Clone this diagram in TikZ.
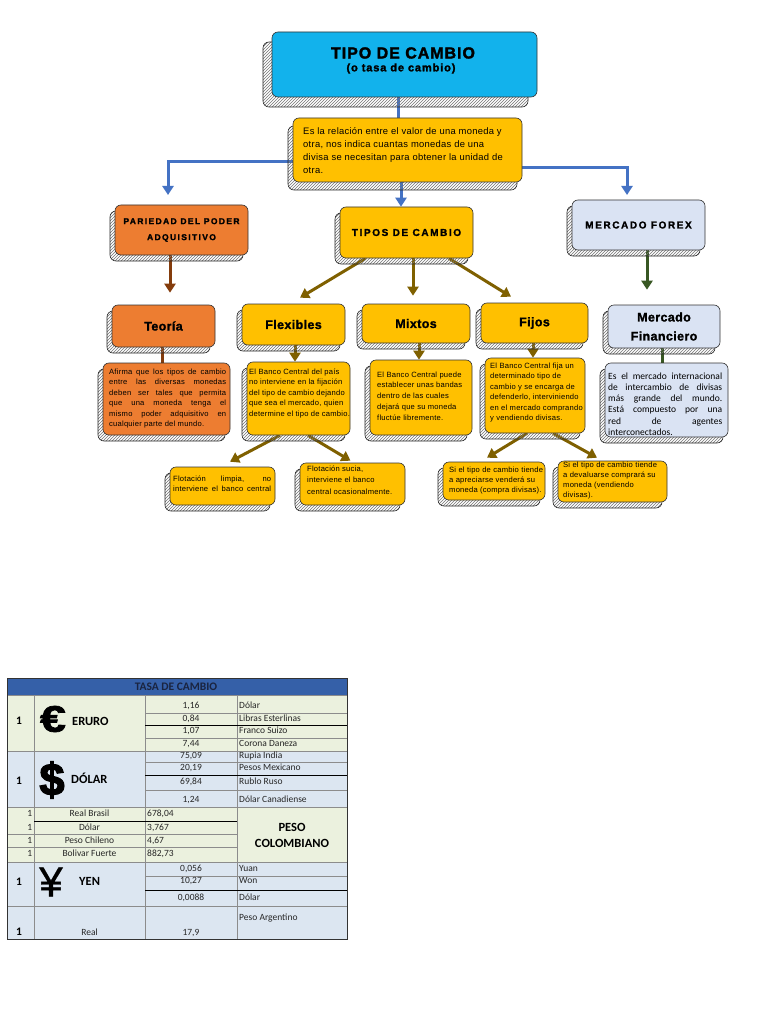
\documentclass[tikz,border=0pt]{standalone}
\usepackage{fontspec}
\setmainfont{Liberation Sans}
\newfontfamily\calfont{Carlito}
\usetikzlibrary{shadows,patterns,arrows.meta,calc,backgrounds}
\definecolor{cTitle}{HTML}{12B2EC}
\definecolor{cYel}{HTML}{FFC000}
\definecolor{cOra}{HTML}{ED7D31}
\definecolor{cLbl}{HTML}{DAE3F3}
\definecolor{cBlue}{HTML}{4472C4}
\definecolor{cBrown}{HTML}{843C0C}
\definecolor{cOlive}{HTML}{7F6000}
\definecolor{cGreen}{HTML}{385723}
\definecolor{cTGreen}{HTML}{EBF1DE}
\definecolor{cTBlue}{HTML}{DCE6F1}
\definecolor{cTHead}{HTML}{3560A8}
\definecolor{cHeadTxt}{HTML}{1A2440}
\begin{document}
\begin{tikzpicture}[x=1pt,y=-1pt,
 bx/.style={draw=black!80,line width=0.6pt,rounded corners=6pt,inner sep=0pt,align=center},
 shd/.style={general shadow={shadow xshift=-5pt,shadow yshift=-6pt,draw=black!85,line width=0.6pt,pattern=north east lines,pattern color=black!55}},
 bigshd/.style={general shadow={shadow xshift=-9pt,shadow yshift=-10pt,draw=black!85,line width=0.6pt,pattern=north east lines,pattern color=black!55}},
 defshd/.style={general shadow={shadow xshift=-5pt,shadow yshift=-8pt,draw=black!85,line width=0.6pt,pattern=north east lines,pattern color=black!55}},
 conn/.style={line width=3pt},
 arr/.style={line width=3pt,-{Triangle[width=11pt,length=9pt]}},
 hd/.style={font=\fontsize{10}{16}\selectfont\bfseries\addfontfeature{LetterSpace=16,FakeBold=1.5}},
 sub/.style={font=\fontsize{12.5}{19}\selectfont\bfseries\addfontfeature{LetterSpace=3,FakeBold=1.5}},
 txt/.style={inner sep=0pt,anchor=north west,align=left},
 cell/.style={inner sep=0pt,font=\calfont\fontsize{9.5}{10}\selectfont,text=black!85,text height=6.5pt,text depth=2pt},
 grid/.style={draw=black!45,line width=0.5pt},
 thk/.style={draw=black,line width=0.9pt}
]
\useasboundingbox (0,0) rectangle (768,1024);

% ---------- boxes ----------
\node[bx,bigshd,fill=cTitle,minimum width=265pt,minimum height=65pt] (title) at (404.5,64.5) {};
\node[inner sep=0pt,font=\fontsize{16}{18}\selectfont\bfseries\addfontfeature{LetterSpace=6,FakeBold=2}] (tt1) at (403,53) {TIPO DE CAMBIO};
\node[inner sep=0pt,font=\fontsize{11}{12}\selectfont\bfseries\addfontfeature{LetterSpace=8,FakeBold=2}] (tt2) at (401,68.5) {(o tasa de cambio)};

\node[bx,defshd,fill=cYel,minimum width=229pt,minimum height=64pt] (def) at (407.5,150) {};
\node[txt,font=\fontsize{9.4}{13}\selectfont\addfontfeature{LetterSpace=3}] (deftxt) at (303,127.5) {Es la relación entre el valor de una moneda y\\otra, nos indica cuantas monedas de una\\divisa se necesitan para obtener la unidad de\\otra.};

\node[bx,shd,fill=cOra,minimum width=133pt,minimum height=50pt,font=\fontsize{8.5}{16}\selectfont\bfseries\addfontfeature{LetterSpace=16,FakeBold=1.5}] (par) at (181.5,230) {PARIEDAD DEL PODER\\ADQUISITIVO};
\node[bx,shd,fill=cYel,hd,minimum width=133pt,minimum height=51pt] (tipos) at (406.5,232.5) {TIPOS DE CAMBIO};
\node[bx,shd,fill=cLbl,hd,minimum width=133pt,minimum height=50pt] (forex) at (638.5,225) {MERCADO FOREX};

\node[bx,shd,fill=cOra,sub,minimum width=103pt,minimum height=42pt] (teo) at (163.5,326) {Teoría};
\node[bx,shd,fill=cYel,sub,minimum width=103pt,minimum height=41pt] (flex) at (293.5,324.5) {Flexibles};
\node[bx,shd,fill=cYel,sub,minimum width=108pt,minimum height=39pt] (mix) at (416,323.5) {Mixtos};
\node[bx,shd,fill=cYel,sub,minimum width=107pt,minimum height=40pt] (fij) at (534.5,323) {Fijos};
\node[bx,shd,fill=cLbl,sub,minimum width=112pt,minimum height=43pt] (mfin) at (664,326.5) {Mercado\\Financiero};

\node[bx,shd,fill=cOra,minimum width=127pt,minimum height=72pt] (teotxt) at (166.5,399) {};
\node[txt,font=\fontsize{7.6}{10.5}\selectfont\addfontfeature{LetterSpace=3}] (teot) at (109,368.5) {\makebox[117pt][s]{Afirma que los tipos de cambio}\\\makebox[117pt][s]{entre las diversas monedas}\\\makebox[117pt][s]{deben ser tales que permita}\\\makebox[117pt][s]{que una moneda tenga el}\\\makebox[117pt][s]{mismo poder adquisitivo en}\\cualquier parte del mundo.};

\node[bx,shd,fill=cYel,minimum width=103pt,minimum height=73pt] (flextxt) at (298.5,398.5) {};
\node[txt,font=\fontsize{7.6}{10.5}\selectfont\addfontfeature{LetterSpace=3}] (flext) at (249,368.5) {El Banco Central del país\\no interviene en la fijación\\del tipo de cambio dejando\\que sea el mercado, quien\\determine el tipo de cambio.};

\node[bx,shd,fill=cYel,minimum width=102pt,minimum height=75pt] (mixtxt) at (421,397.5) {};
\node[txt,font=\fontsize{7.6}{10.7}\selectfont\addfontfeature{LetterSpace=3}] (mixt) at (377,371.5) {El Banco Central puede\\establecer unas bandas\\dentro de las cuales\\dejará que su moneda\\fluctúe libremente.};

\node[bx,shd,fill=cYel,minimum width=100pt,minimum height=75pt] (fijtxt) at (535,395.5) {};
\node[txt,font=\fontsize{7.6}{10.5}\selectfont\addfontfeature{LetterSpace=3}] (fijt) at (490,362.5) {El Banco Central fija un\\determinado tipo de\\cambio y se encarga de\\defenderlo, interviniendo\\en el mercado comprando\\y vendiendo divisas.};

\node[bx,shd,fill=cLbl,minimum width=123pt,minimum height=74pt] (mfintxt) at (666.5,400) {};
\node[txt,font=\calfont\fontsize{9.5}{11.2}\selectfont] (mfint) at (608,372.5) {\makebox[114pt][s]{Es el mercado internacional}\\\makebox[114pt][s]{de intercambio de divisas}\\\makebox[114pt][s]{más grande del mundo.}\\\makebox[114pt][s]{Está compuesto por una}\\\makebox[114pt][s]{red de agentes}\\interconectados.};

\node[bx,shd,fill=cYel,minimum width=105pt,minimum height=38pt] (limpia) at (222.5,486) {};
\node[txt,font=\fontsize{7.6}{10}\selectfont\addfontfeature{LetterSpace=3}] (limpiat) at (173,475.5) {\makebox[98pt][s]{Flotación limpia, no}\\\makebox[98pt][s]{interviene el banco central}};

\node[bx,shd,fill=cYel,minimum width=105pt,minimum height=42pt] (sucia) at (352.5,484) {};
\node[txt,font=\fontsize{7.6}{11.5}\selectfont\addfontfeature{LetterSpace=3}] (suciat) at (307,465.5) {Flotación sucia,\\interviene el banco\\central ocasionalmente.};

\node[bx,shd,fill=cYel,minimum width=102pt,minimum height=38pt] (aprec) at (494,481) {};
\node[txt,font=\fontsize{7.6}{10}\selectfont\addfontfeature{LetterSpace=3}] (aprect) at (449,466.5) {Si el tipo de cambio tiende\\a apreciarse venderá su\\moneda (compra divisas).};

\node[bx,shd,fill=cYel,minimum width=109pt,minimum height=41pt] (deval) at (612.5,481.5) {};
\node[txt,font=\fontsize{7.6}{10}\selectfont\addfontfeature{LetterSpace=3}] (devalt) at (563,461.5) {Si el tipo de cambio tiende\\a devaluarse comprará su\\moneda (vendiendo\\divisas).};

% ---------- connectors ----------
\begin{scope}[on background layer]
\fill[white] (0,0) rectangle (768,1024);
\coordinate (bl1) at (168,195);
\coordinate (bl2) at (627,195);
\draw[conn,cBlue] ($(title.south)+(-6,0)$) -- ($(def.north)+(-9,0)$);
\draw[arr,cBlue] ($(def.west)+(0,12)$) -| (bl1);
\draw[arr,cBlue] ($(def.east)+(0,18)$) -| (bl2);
\draw[arr,cBlue] ($(def.south)+(-6.5,0)$) -- ($(tipos.north)+(-5.5,0)$);

\draw[arr,cBrown] ($(par.south)+(-11.5,0)$) -- ($(teo.north)+(6.5,-12)$);
\draw[conn,cBrown] ($(teo.south)+(-1.5,0)$) -- ($(teotxt.north)+(-4.5,0)$);

\draw[arr,cOlive] ($(tipos.south)+(-41,0)$) -- ($(flex.north)+(6.5,-6)$);
\draw[arr,cOlive] ($(tipos.south)+(6.5,0)$) -- ($(mix.north)+(-3,-8)$);
\draw[arr,cOlive] ($(tipos.south)+(42.5,0)$) -- ($(fij.north)+(-23.5,-6)$);

\draw[arr,cOlive] ($(flex.south)+(1.5,0)$) -- ($(flextxt.north)+(-3.5,0)$);
\draw[arr,cOlive] ($(mix.south)+(3,0)$) -- ($(mixtxt.north)+(-2,0)$);
\draw[arr,cOlive] ($(fij.south)+(-1.5,0)$) -- ($(fijtxt.north)+(-2,0)$);

\draw[arr,cGreen] ($(forex.south)+(8.5,0)$) -- ($(mfin.north)+(-17,-15)$);
\draw[conn,cGreen] ($(mfin.south)+(-2,0)$) -- ($(mfintxt.north)+(-4.5,0)$);

\draw[arr,cOlive] ($(flextxt.south)+(-18.5,0)$) -- ($(limpia.north)+(7.5,-5)$);
\draw[arr,cOlive] ($(flextxt.south)+(9.5,0)$) -- ($(sucia.north)+(-2,-2)$);
\draw[arr,cOlive] ($(fijtxt.south)+(-8,0)$) -- ($(aprec.north)+(-7,-4)$);
\draw[arr,cOlive] ($(fijtxt.south)+(18,0)$) -- ($(deval.north)+(-15.5,-3)$);
\end{scope}

% ---------- table ----------
\fill[cTHead] (7,678) rectangle (347,695.5);
\fill[cTGreen] (7,695.5) rectangle (347,751);
\fill[cTBlue] (7,751) rectangle (347,807);
\fill[cTGreen] (7,807) rectangle (347,862);
\fill[cTBlue] (7,862) rectangle (347,939);
\draw[grid] (34,695.5) -- (34,939) (145,695.5) -- (145,939) (237,695.5) -- (237,939);
\draw[grid] (7,695.5) -- (347,695.5) (7,751) -- (347,751) (7,807) -- (347,807) (7,862) -- (347,862) (7,906) -- (347,906);
\draw[grid] (145,713) -- (347,713) (145,738) -- (347,738) (145,762.5) -- (347,762.5) (145,790) -- (347,790) (145,876) -- (347,876);
\draw[grid] (7,834) -- (237,834) (7,847.5) -- (237,847.5);
\draw[thk] (145,725.5) -- (347,725.5) (145,775) -- (347,775) (34,821) -- (237,821) (145,890) -- (347,890);
\draw[black!80,line width=0.8pt] (7,678) rectangle (347,939);

\node[inner sep=0pt,font=\calfont\bfseries\fontsize{11.5}{12}\selectfont,text=cHeadTxt] (th) at (176,687) {TASA DE CAMBIO};

\node[cell,font=\calfont\bfseries\fontsize{11.5}{12}\selectfont,text=black] (one1) at (19,722) {1};
\node[cell,font=\calfont\bfseries\fontsize{11.5}{12}\selectfont,text=black] (one2) at (19,782) {1};
\node[cell,font=\calfont\bfseries\fontsize{11.5}{12}\selectfont,text=black] (one3) at (19,883) {1};
\node[cell,font=\calfont\bfseries\fontsize{11.5}{12}\selectfont,text=black] (one4) at (19,933) {1};

\node[inner sep=0pt,font=\fontsize{37}{37}\selectfont\bfseries\addfontfeature{FakeBold=2}] (eur) at (53,719) {\scalebox{1.25}[1]{€}};
\node[inner sep=0pt,font=\fontsize{45}{45}\selectfont\bfseries\addfontfeature{FakeBold=3}] (usd) at (52,780) {\$};
\node[inner sep=0pt,font=\fontsize{42}{42}\selectfont\addfontfeature{FakeBold=1}] (jpy) at (51,882) {¥};
\node[cell,anchor=west,font=\calfont\bfseries\fontsize{12.5}{13}\selectfont,text=black] (eruro) at (72,723) {ERURO};
\node[cell,anchor=west,font=\calfont\bfseries\fontsize{12.5}{13}\selectfont,text=black] (dolarl) at (71,781.5) {DÓLAR};
\node[cell,anchor=west,font=\calfont\bfseries\fontsize{12.5}{13}\selectfont,text=black] (yenl) at (79,883) {YEN};

% euro rows
\node[cell] (n11) at (191,706.5) {1,16};
\node[cell] (n12) at (191,719) {0,84};
\node[cell] (n13) at (191,731.5) {1,07};
\node[cell] (n14) at (191,744.5) {7,44};
\node[cell,anchor=west] (c11) at (239,706.5) {Dólar};
\node[cell,anchor=west] (c12) at (239,719) {Libras Esterlinas};
\node[cell,anchor=west] (c13) at (239,731.5) {Franco Suizo};
\node[cell,anchor=west] (c14) at (239,744.5) {Corona Daneza};
% dollar rows
\node[cell] (n21) at (191,756.5) {75,09};
\node[cell] (n22) at (191,768.5) {20,19};
\node[cell] (n23) at (191,782) {69,84};
\node[cell] (n24) at (191,800) {1,24};
\node[cell,anchor=west] (c21) at (239,756.5) {Rupia India};
\node[cell,anchor=west] (c22) at (239,768.5) {Pesos Mexicano};
\node[cell,anchor=west] (c23) at (239,782) {Rublo Ruso};
\node[cell,anchor=west] (c24) at (239,800) {Dólar Canadiense};
% peso colombiano rows
\node[cell,anchor=east] (p1a) at (32.5,814.5) {1};
\node[cell,anchor=east] (p2a) at (32.5,828) {1};
\node[cell,anchor=east] (p3a) at (32.5,841.3) {1};
\node[cell,anchor=east] (p4a) at (32.5,854.5) {1};
\node[cell] (p1b) at (89.5,814.5) {Real Brasil};
\node[cell] (p2b) at (89.5,828) {Dólar};
\node[cell] (p3b) at (89.5,841.3) {Peso Chileno};
\node[cell] (p4b) at (89.5,854.5) {Bolivar Fuerte};
\node[cell,anchor=west] (p1c) at (147,814.5) {678,04};
\node[cell,anchor=west] (p2c) at (147,828) {3,767};
\node[cell,anchor=west] (p3c) at (147,841.3) {4,67};
\node[cell,anchor=west] (p4c) at (147,854.5) {882,73};
\node[inner sep=0pt,align=center,font=\calfont\bfseries\fontsize{12.5}{16}\selectfont,text=black] (pcol) at (292,835) {PESO\\COLOMBIANO};
% yen rows
\node[cell] (n31) at (191,869.5) {0,056};
\node[cell] (n32) at (191,881.5) {10,27};
\node[cell] (n33) at (191,898) {0,0088};
\node[cell,anchor=west] (c31) at (239,869.5) {Yuan};
\node[cell,anchor=west] (c32) at (239,881.5) {Won};
\node[cell,anchor=west] (c33) at (239,898) {Dólar};
% real row
\node[cell] (rl) at (89.5,933.5) {Real};
\node[cell] (n41) at (191,933.5) {17,9};
\node[cell,anchor=west] (c41) at (239,918) {Peso Argentino};
\end{tikzpicture}
\end{document}
